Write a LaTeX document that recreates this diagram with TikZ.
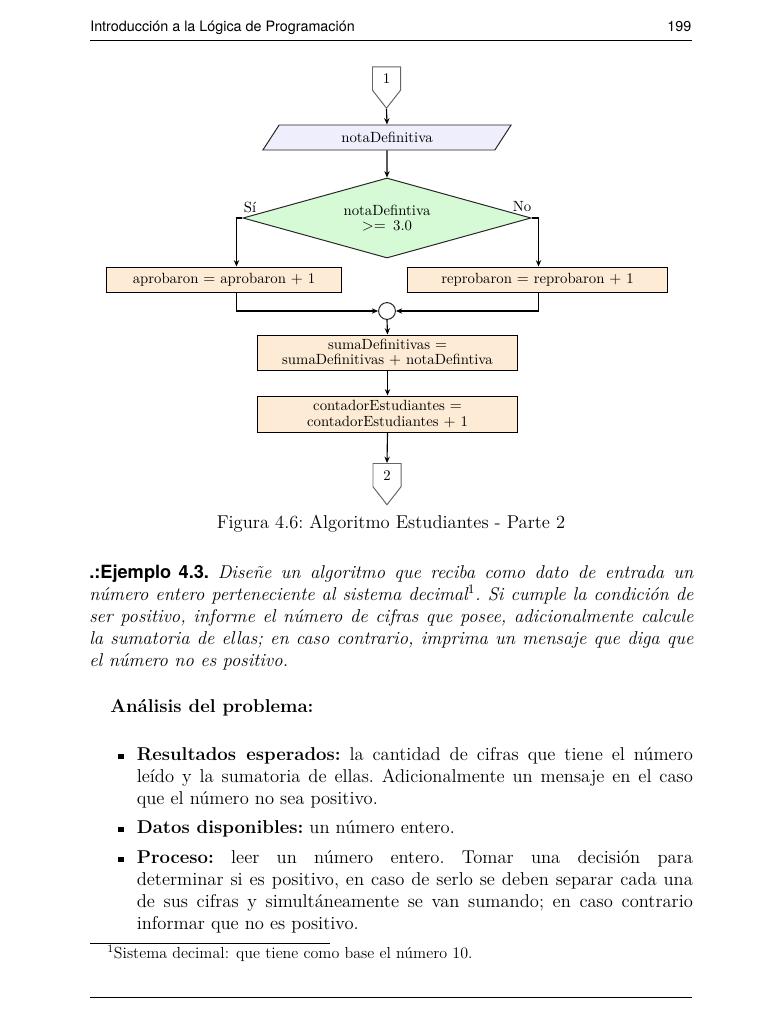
\documentclass[tikz,border=0pt]{standalone}
\usepackage{fontspec}
\usetikzlibrary{shapes.geometric,shapes.symbols,arrows.meta}
\newfontfamily\headfont{TeX Gyre Heros}
\definecolor{datafill}{RGB}{238,238,252}
\definecolor{decfill}{RGB}{214,250,214}
\definecolor{procfill}{RGB}{253,235,214}
\newcommand\chartfont{\fontsize{10.5}{11}\selectfont}
\newcommand\bodyfont{\fontsize{13.2}{15.6}\selectfont\frenchspacing}
\tikzset{
  arr/.style={-{Stealth[length=4.5pt,width=3.8pt]}, line width=0.8pt},
  proc/.style={draw=black, fill=procfill, line width=0.7pt, inner sep=0pt, font=\chartfont, align=center},
  datain/.style={draw=black!85, fill=datafill, line width=0.7pt, shape=trapezium, trapezium left angle=57, trapezium right angle=123, trapezium stretches=true, minimum width=6.25cm, minimum height=0.625cm, inner sep=0pt, font=\chartfont},
  decision/.style={draw=black!85, fill=decfill, line width=0.7pt, shape=diamond, aspect=3.6, minimum width=7.2cm, minimum height=2cm, inner sep=0pt, font=\chartfont, align=center},
  offpage/.style={draw=black!60, fill=white, line width=0.7pt, shape=signal, signal to=south, signal pointer angle=76, minimum width=0.7cm, minimum height=0.7cm, inner sep=0pt, font=\chartfont},
  joint/.style={draw=black!85, circle, line width=0.7pt, minimum size=0.42cm, inner sep=0pt},
  textline/.style={anchor=base west, inner sep=0pt, font=\bodyfont},
  bulletsq/.style={fill=black, minimum size=0.145cm, inner sep=0pt}
}
\begin{document}
\begin{tikzpicture}[x=0.025cm,y=-0.025cm]
  \fill[white] (0,0) rectangle (768,1024);
  \useasboundingbox (0,0) rectangle (768,1024);
  % running head
  \node[anchor=base west, inner sep=0pt, font=\headfont\fontsize{10.2}{12}\selectfont] (head) at (90,32) {Introducción a la Lógica de Programación};
  \node[anchor=base east, inner sep=0pt, font=\headfont\fontsize{10.2}{12}\selectfont] (pagenum) at (691.5,32) {199};
  \draw[line width=0.6pt] (90,40.5) -- (692,40.5);
  % flowchart
  \node[offpage, anchor=north] (c1) at (386.5,66.5) {1};
  \node[datain] (nota) at (387,137.5) {notaDefinitiva};
  \node[decision] (dec) at (387,218) {notaDefintiva\\$>=$~\,3.0};
  \node[proc, minimum width=5.85cm, minimum height=0.625cm] (apr) at (224,279.5) {aprobaron $=$ aprobaron $+$ 1};
  \node[proc, minimum width=6.475cm, minimum height=0.625cm] (rep) at (537.5,279.5) {reprobaron $=$ reprobaron $+$ 1};
  \node[joint] (join) at (387,311) {};
  \node[proc, minimum width=6.475cm, minimum height=0.875cm] (suma) at (387.5,352.5) {sumaDefinitivas $=$\\sumaDefinitivas $+$ notaDefintiva};
  \node[proc, minimum width=6.475cm, minimum height=0.9cm] (cont) at (387.5,414) {contadorEstudiantes $=$\\contadorEstudiantes $+$ 1};
  \node[offpage, anchor=north] (c2) at (387,463) {2};
  \node[font=\chartfont] (si) at (250,207) {Sí};
  \node[font=\chartfont] (no) at (522,207) {No};
  \draw[arr] (c1.south) -- (nota.north);
  \draw[arr] (nota.south) -- (dec.north);
  \draw[arr] (dec.west) -- ++(-6,0) coordinate (l1) -- (l1 |- apr.north);
  \draw[arr] (dec.east) -- ++(7,0) coordinate (r1) -- (r1 |- rep.north);
  \draw[arr] (l1 |- apr.south) |- (join.west);
  \draw[arr] (r1 |- rep.south) |- (join.east);
  \draw[arr] (join.south) -- (suma.north);
  \draw[arr] (suma.south) -- (cont.north);
  \draw[arr] (cont.south) -- (c2.north);
  % caption
  \node[anchor=base, inner sep=0pt, font=\bodyfont] (cap) at (391,528) {Figura 4.6: Algoritmo Estudiantes - Parte 2};
  % ejemplo
  \node[textline] (e1) at (89,578) {\makebox[15.1cm][s]{{\headfont\bfseries\fontsize{12.95}{15.6}\selectfont .:Ejemplo 4.3.} \itshape Diseñe un algoritmo que reciba como dato de entrada un}};
  \node[textline] (e2) at (89,600) {\makebox[15.1cm][s]{\itshape número entero perteneciente al sistema decimal\textsuperscript{\upshape 1}. Si cumple la condición de}};
  \node[textline] (e3) at (89,622) {\makebox[15.1cm][s]{\itshape ser positivo, informe el número de cifras que posee, adicionalmente calcule}};
  \node[textline] (e4) at (89,644) {\makebox[15.1cm][s]{\itshape la sumatoria de ellas; en caso contrario, imprima un mensaje que diga que}};
  \node[textline] (e5) at (89,666) {\itshape el número no es positivo.};
  % analisis
  \node[textline] (an) at (110,712) {\bfseries Análisis del problema:};
  \node[bulletsq] (b1) at (121,756.5) {};
  \node[textline] (r1) at (136.5,760) {\makebox[13.9cm][s]{\bfseries Resultados esperados:\mdseries{} la cantidad de cifras que tiene el número}};
  \node[textline] (r2) at (136.5,782) {\makebox[13.9cm][s]{leído y la sumatoria de ellas. Adicionalmente un mensaje en el caso}};
  \node[textline] (r3) at (136.5,804) {que el número no sea positivo.};
  \node[bulletsq] (b2) at (121,829.5) {};
  \node[textline] (d1) at (136.5,833) {\textbf{Datos disponibles:} un número entero.};
  \node[bulletsq] (b3) at (121,859.5) {};
  \node[textline] (p1) at (136.5,863) {\makebox[13.9cm][s]{\bfseries Proceso:\mdseries{} leer un número entero. Tomar una decisión para}};
  \node[textline] (p2) at (136.5,885) {\makebox[13.9cm][s]{determinar si es positivo, en caso de serlo se deben separar cada una}};
  \node[textline] (p3) at (136.5,907) {\makebox[13.9cm][s]{de sus cifras y simultáneamente se van sumando; en caso contrario}};
  \node[textline] (p4) at (136.5,929) {informar que no es positivo.};
  % footnote
  \draw[line width=0.5pt] (90,943) -- (330,943);
  \node[anchor=base west, inner sep=0pt, font=\fontsize{11.4}{13}\selectfont] (fn) at (107,958) {\textsuperscript{1}Sistema decimal: que tiene como base el número 10.};
  % foot rule
  \draw[line width=0.6pt] (90,997) -- (692,997);
\end{tikzpicture}
\end{document}
